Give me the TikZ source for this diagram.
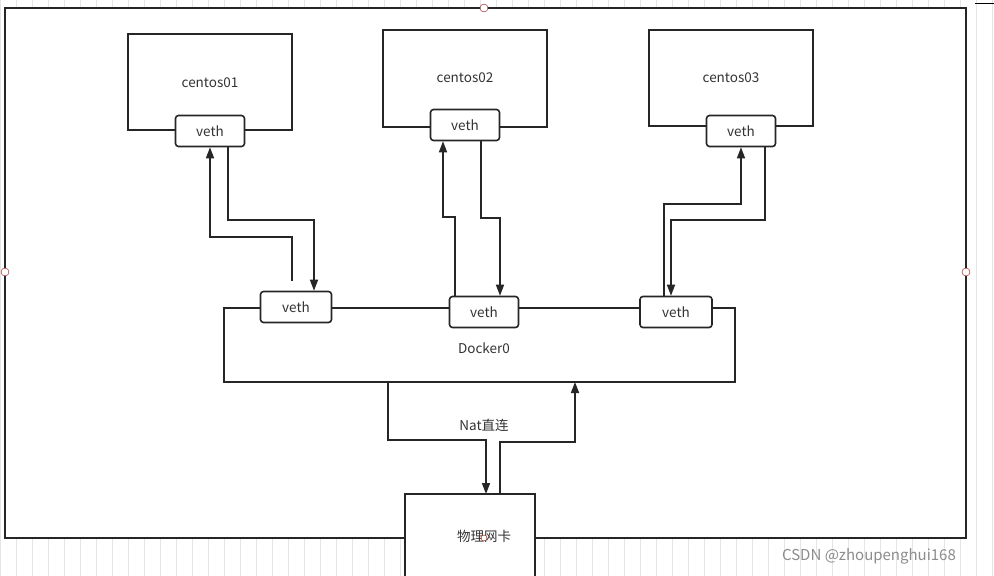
\documentclass[tikz,border=0pt]{standalone}
\usepackage{fontspec}
\setmainfont{Noto Sans CJK SC}
\usetikzlibrary{arrows.meta}
\begin{document}
\begin{tikzpicture}[x=1pt,y=-1pt,
  box/.style={draw=black!85,line width=1.6pt},
  vb/.style={draw=black!85,line width=1.6pt,fill=white,rounded corners=3pt,minimum width=69pt,minimum height=31pt,font=\fontsize{13.5}{13.5}\selectfont,text=black!80},
  lbl/.style={font=\fontsize{13.5}{13.5}\selectfont,text=black!80},
  ar/.style={draw=black!85,line width=1.6pt,-{Triangle[length=11pt,width=8pt]}},
  hd/.style={circle,draw=red!60!black,fill=white,inner sep=0pt,minimum size=8pt}]
\useasboundingbox (0,0) rectangle (994,576);
\fill[white] (0,0) rectangle (994,576);
\draw[black!10,step=16] (0,0) grid (994,576);
\fill[white] (5,8) rectangle (966,538);
\draw[box] (5,8) rectangle (966,538);
\draw[black,line width=1pt] (975,3) -- (994,3);
% containers
\draw[box,fill=white] (128,34) rectangle (292,130);
\draw[box,fill=white] (383,30) rectangle (547,127);
\draw[box,fill=white] (649,30) rectangle (813,126);
\node[lbl] (c1) at (210,83) {centos01};
\node[lbl] (c2) at (465,78) {centos02};
\node[lbl] (c3) at (731,78) {centos03};
\node[vb] (v1) at (210,131) {veth};
\node[vb] (v2) at (465,125) {veth};
\node[vb] (v3) at (741,131) {veth};
% docker0
\draw[box,fill=white] (224,308) rectangle (735,382);
\node[lbl] (d0) at (484,348) {Docker0};
\node[vb,minimum width=71pt] (w1) at (296,307) {veth};
\node[vb] (w2) at (484,312) {veth};
\node[vb,minimum width=72pt] (w3) at (676,312) {veth};
% NIC
\draw[box,fill=white] (405,494) rectangle (535,580);
\node[lbl] (nic) at (484,536) {物理网卡};
\coordinate (nat1) at (388,382);
\coordinate (nat2) at (575,382);
% arrows
\draw[ar] (292,281) -- (292,237) -- (210,237) -- (v1.south);
\draw[ar] (228,147) -- (228,220) -- (314,220) -- (314,0 |- w1.north);
\draw[ar] (455,0 |- w2.north) -- (455,217) -- (443,217) -- (443,0 |- v2.south);
\draw[ar] (481,0 |- v2.south) -- (481,218) -- (500,218) -- (500,0 |- w2.north);
\draw[ar] (664,0 |- w3.north) -- (664,204) -- (741,204) -- (v3.south);
\draw[ar] (765,0 |- v3.south) -- (765,220) -- (671,220) -- (671,0 |- w3.north);
\draw[ar] (nat1) -- (388,440) -- (486,440) -- (486,494);
\draw[ar] (500,494) -- (500,442) -- (575,442) -- (nat2);
\node[lbl] (nat) at (484,425) {Nat直连};
\node[hd] (h1) at (484,8) {};
\node[hd] (h2) at (5,272) {};
\node[hd] (h3) at (966,272) {};
\node[hd,minimum size=6pt] (h4) at (484,538) {};
\node[font=\fontsize{15}{15}\selectfont,text=black!45] (wm) at (869,556) {CSDN @zhoupenghui168};
\end{tikzpicture}
\end{document}
